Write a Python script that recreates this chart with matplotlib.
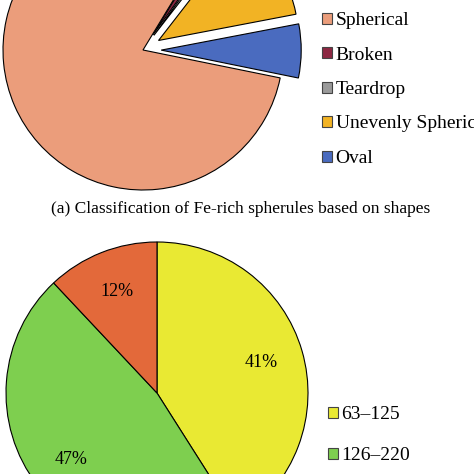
import matplotlib
matplotlib.use("Agg")
import matplotlib.pyplot as plt
from matplotlib.patches import Patch

plt.rcParams['font.family'] = ['Liberation Serif', 'DejaVu Serif']

shape_labels = ["Spherical", "Broken", "Teardrop", "Unevenly Spherical", "Oval"]
shape_values = [80.5, 1.2, 0.6, 11.5, 6.2]
shape_colors = ["#eb9d7b", "#8c2742", "#9a9a9a", "#f2b324", "#4a6bbf"]

size_labels = ["63–125", "126–220", ">220"]
size_values = [41, 47, 12]
size_colors = ["#e9e933", "#7ecf4f", "#e3693a"]

caption = "(a) Classification of Fe-rich spherules based on shapes"

W = 474
fig = plt.figure(figsize=(4.74, 4.74), dpi=100)

def box(cx, cy, r):
    s = 2.6 * r
    return [(cx - s / 2) / W, (W - cy - s / 2) / W, s / W, s / W]

ax1 = fig.add_axes(box(143, 50, 140))
ax1.pie(shape_values, colors=shape_colors, startangle=-11.5,
        counterclock=False, explode=[0, 0.13, 0.13, 0.13, 0.13],
        wedgeprops=dict(edgecolor="black", linewidth=0.8))
ax1.set_xlim(-1.3, 1.3); ax1.set_ylim(-1.3, 1.3); ax1.axis("off")

ax2 = fig.add_axes(box(157, 393, 151))
ax2.pie(size_values, colors=size_colors, startangle=90, counterclock=False,
        autopct=lambda p: f"{p:.0f}%", pctdistance=0.72,
        textprops=dict(fontsize=13),
        wedgeprops=dict(edgecolor="black", linewidth=0.8))
ax2.set_xlim(-1.3, 1.3); ax2.set_ylim(-1.3, 1.3); ax2.axis("off")

h1 = [Patch(facecolor=c, edgecolor="#444444", linewidth=0.8) for c in shape_colors]
fig.legend(h1, shape_labels, loc="upper left", bbox_to_anchor=(322 / W, 1 - 12 / W),
           frameon=False, fontsize=14, handlelength=0.5, handleheight=0.5,
           handletextpad=0.2, labelspacing=0.9, borderpad=0, borderaxespad=0)

h2 = [Patch(facecolor=c, edgecolor="#444444", linewidth=0.8) for c in size_colors[:2]]
fig.legend(h2, size_labels[:2], loc="upper left", bbox_to_anchor=(328 / W, 1 - 406 / W),
           frameon=False, fontsize=14, handlelength=0.5, handleheight=0.5,
           handletextpad=0.2, labelspacing=1.25, borderpad=0, borderaxespad=0)

fig.text(241 / W, 1 - 209 / W, caption, ha="center", va="center", fontsize=12.5)

fig.savefig("out.png", dpi=100)
